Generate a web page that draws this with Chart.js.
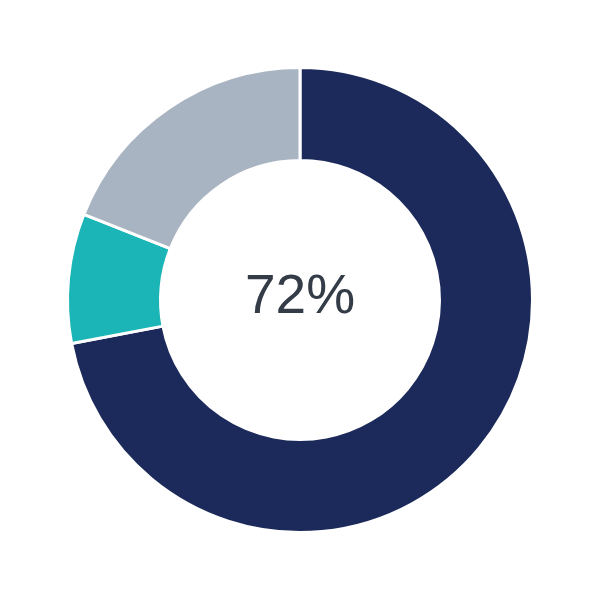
<!DOCTYPE html>
<html>
<head>
<meta charset="utf-8">
<script src="https://cdn.jsdelivr.net/npm/chart.js@4/dist/chart.umd.min.js"></script>
<style>
  html, body { margin: 0; padding: 0; background: #ffffff; }
  #wrap { position: relative; width: 600px; height: 600px; }
</style>
</head>
<body>
<div id="wrap"><canvas id="donut" width="600" height="600"></canvas></div>
<script>
// slice data, clockwise from the top
const labels = ['A', 'B', 'C'];
const values = [72, 9, 19];
const colors = ['#1b2a5a', '#1bb5b7', '#a9b4c2'];
const centerText = '72%';

// draw the big percentage in the hole
const centerLabel = {
    id: 'centerLabel',
    afterDraw(chart) {
        const ctx = chart.ctx;
        const meta = chart.getDatasetMeta(0).data[0];
        ctx.save();
        ctx.font = '400 55px "Liberation Sans", Arial, sans-serif';
        ctx.fillStyle = '#333c47';
        ctx.textAlign = 'center';
        ctx.textBaseline = 'middle';
        ctx.fillText(centerText, meta.x, meta.y - 2);
        ctx.restore();
    }
};

new Chart(document.getElementById('donut'), {
    type: 'doughnut',
    data: {
        labels: labels,
        datasets: [{
            data: values,
            backgroundColor: colors,
            borderColor: '#ffffff',
            borderWidth: 3
        }]
    },
    options: {
        responsive: false,
        animation: false,
        cutout: '60%',
        layout: { padding: 66 },
        plugins: {
            legend: { display: false },
            tooltip: { enabled: false }
        }
    },
    plugins: [centerLabel]
});
</script>
</body>
</html>
